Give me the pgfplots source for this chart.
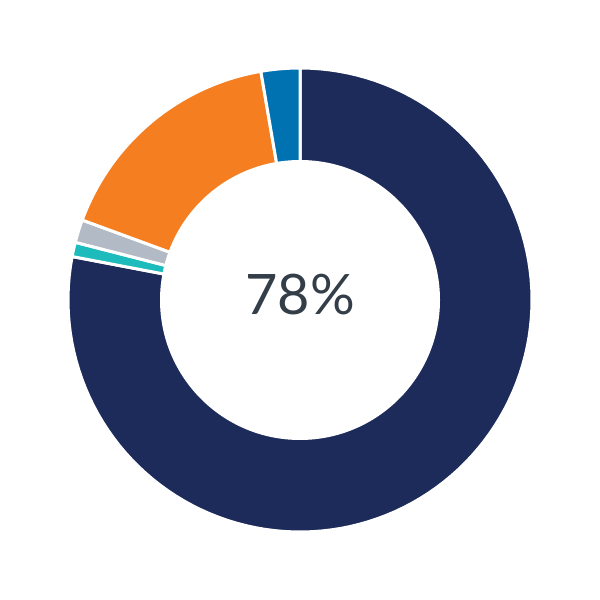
\documentclass[border=0pt]{standalone}
\usepackage{pgfplots}
\pgfplotsset{compat=1.18}
\usepackage{fontspec}
\setmainfont{Lato}
\definecolor{cnavy}{HTML}{1C2B5A}
\definecolor{cteal}{HTML}{1DBBBB}
\definecolor{cgray}{HTML}{B2BAC5}
\definecolor{corange}{HTML}{F47E20}
\definecolor{cblue}{HTML}{0072B1}
\definecolor{ctext}{HTML}{343E48}
\begin{document}
\begin{tikzpicture}
\begin{axis}[
  scale only axis, width=600bp, height=600bp,
  xmin=-300, xmax=300, ymin=-300, ymax=300,
  hide axis, clip=false,
  samples=120,
]
\path (axis cs:-300,-300) rectangle (axis cs:300,300);
% slices: cumulative percentages (start:end), clockwise from 12 o'clock
\addplot[fill=cnavy, draw=white, line width=3bp, domain=0:78.0] ({232*sin(3.6*x)},{232*cos(3.6*x)}) -- (axis cs:0,0) -- cycle;
\addplot[fill=cteal, draw=white, line width=3bp, domain=78.0:79.0, samples=10] ({232*sin(3.6*x)},{232*cos(3.6*x)}) -- (axis cs:0,0) -- cycle;
\addplot[fill=cgray, draw=white, line width=3bp, domain=79.0:80.6, samples=10] ({232*sin(3.6*x)},{232*cos(3.6*x)}) -- (axis cs:0,0) -- cycle;
\addplot[fill=corange, draw=white, line width=3bp, domain=80.6:97.3, samples=40] ({232*sin(3.6*x)},{232*cos(3.6*x)}) -- (axis cs:0,0) -- cycle;
\addplot[fill=cblue, draw=white, line width=3bp, domain=97.3:100, samples=10] ({232*sin(3.6*x)},{232*cos(3.6*x)}) -- (axis cs:0,0) -- cycle;
\fill[white] (axis cs:0,0) circle[radius=140];
\node[text=ctext, anchor=base, inner sep=0pt, font=\fontsize{56}{60}\selectfont] at (axis cs:0,-15) {78\%};
\end{axis}
\end{tikzpicture}
\end{document}
